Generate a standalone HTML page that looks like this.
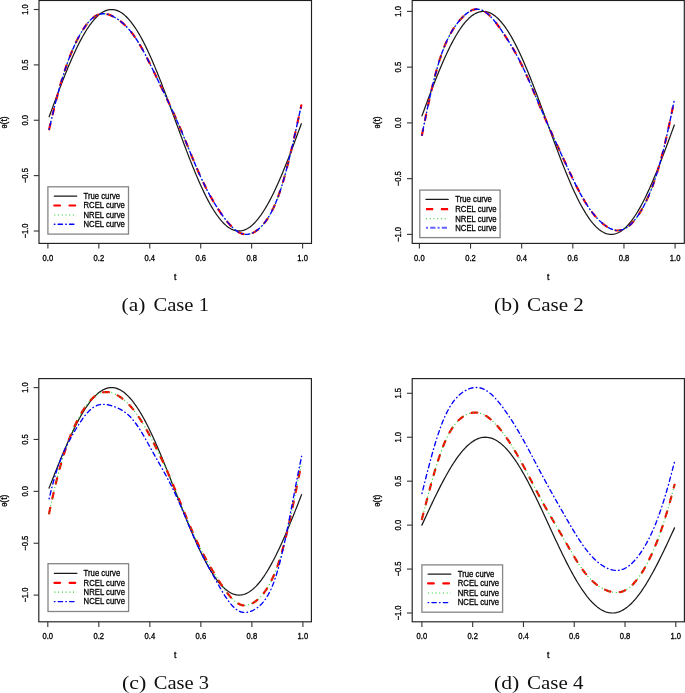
<!DOCTYPE html>
<html><head><meta charset="utf-8"><style>
html,body{margin:0;padding:0;background:#fff;}
svg{display:block;}
.tk{font-family:"Liberation Sans",Arial,sans-serif;font-size:8.6px;fill:#000;stroke:#000;stroke-width:0.32px;}
.lg{font-family:"Liberation Sans",Arial,sans-serif;font-size:8.5px;fill:#000;stroke:#000;stroke-width:0.28px;}
.cap{font-family:"Liberation Serif","Times New Roman",serif;font-size:19px;fill:#111;}
</style></head><body>
<svg width="685" height="693" viewBox="0 0 685 693">
<rect width="685" height="693" fill="#fff"/>
<clipPath id="clipA"><rect x="39.0" y="0.5" width="272.5" height="242.9"/></clipPath><g clip-path="url(#clipA)"><path d="M49.17,116.77 L50.43,113.33 L51.70,109.90 L52.96,106.47 L54.22,103.06 L55.48,99.67 L56.74,96.29 L58.00,92.94 L59.26,89.62 L60.52,86.32 L61.78,83.06 L63.04,79.84 L64.30,76.65 L65.56,73.50 L66.82,70.41 L68.08,67.35 L69.35,64.35 L70.61,61.41 L71.87,58.52 L73.13,55.69 L74.39,52.92 L75.65,50.22 L76.91,47.59 L78.17,45.02 L79.43,42.53 L80.69,40.11 L81.95,37.78 L83.21,35.52 L84.47,33.34 L85.74,31.25 L87.00,29.24 L88.26,27.32 L89.52,25.49 L90.78,23.76 L92.04,22.11 L93.30,20.56 L94.56,19.11 L95.82,17.76 L97.08,16.50 L98.34,15.35 L99.60,14.29 L100.86,13.34 L102.13,12.50 L103.39,11.75 L104.65,11.11 L105.91,10.58 L107.17,10.15 L108.43,9.83 L109.69,9.62 L110.95,9.51 L112.21,9.51 L113.47,9.62 L114.73,9.84 L115.99,10.16 L117.25,10.59 L118.52,11.12 L119.78,11.76 L121.04,12.50 L122.30,13.35 L123.56,14.30 L124.82,15.36 L126.08,16.51 L127.34,17.77 L128.60,19.13 L129.86,20.58 L131.12,22.13 L132.38,23.77 L133.64,25.51 L134.91,27.34 L136.17,29.26 L137.43,31.27 L138.69,33.36 L139.95,35.54 L141.21,37.80 L142.47,40.14 L143.73,42.56 L144.99,45.05 L146.25,47.61 L147.51,50.25 L148.77,52.95 L150.03,55.72 L151.30,58.55 L152.56,61.44 L153.82,64.38 L155.08,67.38 L156.34,70.44 L157.60,73.54 L158.86,76.68 L160.12,79.87 L161.38,83.10 L162.64,86.36 L163.90,89.65 L165.16,92.98 L166.42,96.33 L167.69,99.70 L168.95,103.10 L170.21,106.51 L171.47,109.93 L172.73,113.37 L173.99,116.81 L175.25,120.25 L176.51,123.69 L177.77,127.13 L179.03,130.57 L180.29,133.99 L181.55,137.40 L182.81,140.80 L184.08,144.17 L185.34,147.52 L186.60,150.85 L187.86,154.14 L189.12,157.40 L190.38,160.63 L191.64,163.82 L192.90,166.96 L194.16,170.06 L195.42,173.12 L196.68,176.12 L197.94,179.06 L199.20,181.95 L200.47,184.78 L201.73,187.55 L202.99,190.25 L204.25,192.89 L205.51,195.45 L206.77,197.94 L208.03,200.36 L209.29,202.70 L210.55,204.96 L211.81,207.14 L213.07,209.23 L214.33,211.24 L215.59,213.16 L216.86,214.99 L218.12,216.73 L219.38,218.37 L220.64,219.92 L221.90,221.37 L223.16,222.73 L224.42,223.99 L225.68,225.14 L226.94,226.20 L228.20,227.15 L229.46,228.00 L230.72,228.74 L231.98,229.38 L233.25,229.91 L234.51,230.34 L235.77,230.66 L237.03,230.88 L238.29,230.99 L239.55,230.99 L240.81,230.88 L242.07,230.67 L243.33,230.35 L244.59,229.92 L245.85,229.39 L247.11,228.75 L248.37,228.00 L249.64,227.16 L250.90,226.21 L252.16,225.15 L253.42,224.00 L254.68,222.74 L255.94,221.39 L257.20,219.94 L258.46,218.39 L259.72,216.74 L260.98,215.01 L262.24,213.18 L263.50,211.26 L264.76,209.25 L266.03,207.16 L267.29,204.98 L268.55,202.72 L269.81,200.39 L271.07,197.97 L272.33,195.48 L273.59,192.91 L274.85,190.28 L276.11,187.58 L277.37,184.81 L278.63,181.98 L279.89,179.09 L281.15,176.15 L282.42,173.15 L283.68,170.09 L284.94,167.00 L286.20,163.85 L287.46,160.66 L288.72,157.44 L289.98,154.18 L291.24,150.88 L292.50,147.56 L293.76,144.21 L295.02,140.83 L296.28,137.44 L297.54,134.03 L298.80,130.60 L300.07,127.17 L301.33,123.73" fill="none" stroke="#1a1a1a" stroke-width="1.25" stroke-linecap="round" stroke-linejoin="round"/><path d="M49.17,129.30 L51.72,118.25 L54.27,107.67 L56.81,97.65 L59.36,88.27 L61.91,79.54 L64.46,71.47 L67.00,64.03 L69.55,57.19 L72.10,50.91 L74.64,45.14 L77.19,39.86 L79.74,35.05 L82.28,30.70 L84.83,26.81 L87.38,23.41 L89.93,20.50 L92.47,18.12 L95.02,16.25 L97.57,14.92 L100.11,14.09 L102.66,13.74 L105.21,13.83 L107.75,14.32 L110.30,15.15 L112.85,16.30 L115.40,17.71 L117.94,19.36 L120.49,21.25 L123.04,23.38 L125.58,25.77 L128.13,28.43 L130.68,31.39 L133.22,34.68 L135.77,38.30 L138.32,42.25 L140.87,46.53 L143.41,51.09 L145.96,55.89 L148.51,60.89 L151.05,66.03 L153.60,71.26 L156.15,76.53 L158.69,81.81 L161.24,87.10 L163.79,92.38 L166.34,97.68 L168.88,103.03 L171.43,108.46 L173.98,114.00 L176.52,119.67 L179.07,125.50 L181.62,131.48 L184.16,137.58 L186.71,143.78 L189.26,150.02 L191.81,156.25 L194.35,162.38 L196.90,168.38 L199.45,174.18 L201.99,179.74 L204.54,185.04 L207.09,190.08 L209.63,194.85 L212.18,199.36 L214.73,203.65 L217.28,207.72 L219.82,211.59 L222.37,215.25 L224.92,218.71 L227.46,221.92 L230.01,224.86 L232.56,227.48 L235.10,229.74 L237.65,231.59 L240.20,233.00 L242.75,233.93 L245.29,234.38 L247.84,234.34 L250.39,233.83 L252.93,232.86 L255.48,231.45 L258.03,229.61 L260.57,227.34 L263.12,224.62 L265.67,221.41 L268.22,217.67 L270.76,213.33 L273.31,208.31 L275.86,202.55 L278.40,195.98 L280.95,188.58 L283.50,180.32 L286.04,171.23 L288.59,161.38 L291.14,150.88 L293.69,139.85 L296.23,128.46 L298.78,116.89 L301.33,105.33" fill="none" stroke="#ff0000" stroke-width="2.2" stroke-linecap="round" stroke-linejoin="round" stroke-dasharray="5.7 9.5"/><path d="M49.17,129.30 L51.72,118.25 L54.27,107.67 L56.81,97.65 L59.36,88.27 L61.91,79.54 L64.46,71.47 L67.00,64.03 L69.55,57.19 L72.10,50.91 L74.64,45.14 L77.19,39.86 L79.74,35.05 L82.28,30.70 L84.83,26.81 L87.38,23.41 L89.93,20.50 L92.47,18.12 L95.02,16.25 L97.57,14.92 L100.11,14.09 L102.66,13.74 L105.21,13.83 L107.75,14.32 L110.30,15.15 L112.85,16.30 L115.40,17.71 L117.94,19.36 L120.49,21.25 L123.04,23.38 L125.58,25.77 L128.13,28.43 L130.68,31.39 L133.22,34.68 L135.77,38.30 L138.32,42.25 L140.87,46.53 L143.41,51.09 L145.96,55.89 L148.51,60.89 L151.05,66.03 L153.60,71.26 L156.15,76.53 L158.69,81.81 L161.24,87.10 L163.79,92.38 L166.34,97.68 L168.88,103.03 L171.43,108.46 L173.98,114.00 L176.52,119.67 L179.07,125.50 L181.62,131.48 L184.16,137.58 L186.71,143.78 L189.26,150.02 L191.81,156.25 L194.35,162.38 L196.90,168.38 L199.45,174.18 L201.99,179.74 L204.54,185.04 L207.09,190.08 L209.63,194.85 L212.18,199.36 L214.73,203.65 L217.28,207.72 L219.82,211.59 L222.37,215.25 L224.92,218.71 L227.46,221.92 L230.01,224.86 L232.56,227.48 L235.10,229.74 L237.65,231.59 L240.20,233.00 L242.75,233.93 L245.29,234.38 L247.84,234.34 L250.39,233.83 L252.93,232.86 L255.48,231.45 L258.03,229.61 L260.57,227.34 L263.12,224.62 L265.67,221.41 L268.22,217.67 L270.76,213.33 L273.31,208.31 L275.86,202.55 L278.40,195.98 L280.95,188.58 L283.50,180.32 L286.04,171.23 L288.59,161.38 L291.14,150.88 L293.69,139.85 L296.23,128.46 L298.78,116.89 L301.33,105.33" fill="none" stroke="#1fd01f" stroke-width="1.1" stroke-linecap="butt" stroke-linejoin="round" stroke-dasharray="1 2.72"/><path d="M49.17,129.30 L51.72,118.25 L54.27,107.67 L56.81,97.65 L59.36,88.27 L61.91,79.54 L64.46,71.47 L67.00,64.03 L69.55,57.19 L72.10,50.91 L74.64,45.14 L77.19,39.86 L79.74,35.05 L82.28,30.70 L84.83,26.81 L87.38,23.41 L89.93,20.50 L92.47,18.12 L95.02,16.25 L97.57,14.92 L100.11,14.09 L102.66,13.74 L105.21,13.83 L107.75,14.32 L110.30,15.15 L112.85,16.30 L115.40,17.71 L117.94,19.36 L120.49,21.25 L123.04,23.38 L125.58,25.77 L128.13,28.43 L130.68,31.39 L133.22,34.68 L135.77,38.30 L138.32,42.25 L140.87,46.53 L143.41,51.09 L145.96,55.89 L148.51,60.89 L151.05,66.03 L153.60,71.26 L156.15,76.53 L158.69,81.81 L161.24,87.10 L163.79,92.38 L166.34,97.68 L168.88,103.03 L171.43,108.46 L173.98,114.00 L176.52,119.67 L179.07,125.50 L181.62,131.48 L184.16,137.58 L186.71,143.78 L189.26,150.02 L191.81,156.25 L194.35,162.38 L196.90,168.38 L199.45,174.18 L201.99,179.74 L204.54,185.04 L207.09,190.08 L209.63,194.85 L212.18,199.36 L214.73,203.65 L217.28,207.72 L219.82,211.59 L222.37,215.25 L224.92,218.71 L227.46,221.92 L230.01,224.86 L232.56,227.48 L235.10,229.74 L237.65,231.59 L240.20,233.00 L242.75,233.93 L245.29,234.38 L247.84,234.34 L250.39,233.83 L252.93,232.86 L255.48,231.45 L258.03,229.61 L260.57,227.34 L263.12,224.62 L265.67,221.41 L268.22,217.67 L270.76,213.33 L273.31,208.31 L275.86,202.55 L278.40,195.98 L280.95,188.58 L283.50,180.32 L286.04,171.23 L288.59,161.38 L291.14,150.88 L293.69,139.85 L296.23,128.46 L298.78,116.89 L301.33,105.33" fill="none" stroke="#0000ff" stroke-width="1.35" stroke-linecap="round" stroke-linejoin="round" stroke-dasharray="0.6 3.2 4.4 3.2"/></g><rect x="39.0" y="0.5" width="272.50" height="242.90" fill="none" stroke="#1e1e1e" stroke-width="1.15"/><line x1="47.90" y1="243.40" x2="47.90" y2="248.60" stroke="#333" stroke-width="1.1" /><text x="47.90" y="260.90" class="tk" text-anchor="middle" textLength="10.56" lengthAdjust="spacingAndGlyphs">0.0</text><line x1="98.84" y1="243.40" x2="98.84" y2="248.60" stroke="#333" stroke-width="1.1" /><text x="98.84" y="260.90" class="tk" text-anchor="middle" textLength="10.56" lengthAdjust="spacingAndGlyphs">0.2</text><line x1="149.78" y1="243.40" x2="149.78" y2="248.60" stroke="#333" stroke-width="1.1" /><text x="149.78" y="260.90" class="tk" text-anchor="middle" textLength="10.56" lengthAdjust="spacingAndGlyphs">0.4</text><line x1="200.72" y1="243.40" x2="200.72" y2="248.60" stroke="#333" stroke-width="1.1" /><text x="200.72" y="260.90" class="tk" text-anchor="middle" textLength="10.56" lengthAdjust="spacingAndGlyphs">0.6</text><line x1="251.66" y1="243.40" x2="251.66" y2="248.60" stroke="#333" stroke-width="1.1" /><text x="251.66" y="260.90" class="tk" text-anchor="middle" textLength="10.56" lengthAdjust="spacingAndGlyphs">0.8</text><line x1="302.60" y1="243.40" x2="302.60" y2="248.60" stroke="#333" stroke-width="1.1" /><text x="302.60" y="260.90" class="tk" text-anchor="middle" textLength="10.56" lengthAdjust="spacingAndGlyphs">1.0</text><line x1="33.80" y1="231.00" x2="39.00" y2="231.00" stroke="#333" stroke-width="1.1" /><text transform="translate(28.00,231.00) rotate(-90)" class="tk" text-anchor="middle" textLength="15.00" lengthAdjust="spacingAndGlyphs">−1.0</text><line x1="33.80" y1="175.62" x2="39.00" y2="175.62" stroke="#333" stroke-width="1.1" /><text transform="translate(28.00,175.62) rotate(-90)" class="tk" text-anchor="middle" textLength="15.00" lengthAdjust="spacingAndGlyphs">−0.5</text><line x1="33.80" y1="120.25" x2="39.00" y2="120.25" stroke="#333" stroke-width="1.1" /><text transform="translate(28.00,120.25) rotate(-90)" class="tk" text-anchor="middle" textLength="10.56" lengthAdjust="spacingAndGlyphs">0.0</text><line x1="33.80" y1="64.88" x2="39.00" y2="64.88" stroke="#333" stroke-width="1.1" /><text transform="translate(28.00,64.88) rotate(-90)" class="tk" text-anchor="middle" textLength="10.56" lengthAdjust="spacingAndGlyphs">0.5</text><line x1="33.80" y1="9.50" x2="39.00" y2="9.50" stroke="#333" stroke-width="1.1" /><text transform="translate(28.00,9.50) rotate(-90)" class="tk" text-anchor="middle" textLength="10.56" lengthAdjust="spacingAndGlyphs">1.0</text><text x="175.25" y="280.00" class="tk" text-anchor="middle">t</text><text transform="translate(7.00,122.45) rotate(-90)" class="tk" text-anchor="middle"><tspan font-size="7.6px">θ</tspan>(t)</text><rect x="47.90" y="186.80" width="80.60" height="47.30" fill="#fff" stroke="#858585" stroke-width="1.3"/><path d="M54.30,196.10 L76.70,196.10" fill="none" stroke="#1a1a1a" stroke-width="1.25" stroke-linecap="round" stroke-linejoin="round"/><text x="83.50" y="198.90" class="lg" textLength="36.62" lengthAdjust="spacingAndGlyphs">True curve</text><path d="M54.30,205.50 L76.70,205.50" fill="none" stroke="#ff0000" stroke-width="2.2" stroke-linecap="round" stroke-linejoin="round" stroke-dasharray="5.7 9.5"/><text x="83.50" y="208.30" class="lg" textLength="41.34" lengthAdjust="spacingAndGlyphs">RCEL curve</text><path d="M54.30,215.00 L76.70,215.00" fill="none" stroke="#1fd01f" stroke-width="1.1" stroke-linecap="butt" stroke-linejoin="round" stroke-dasharray="1 2.72"/><text x="83.50" y="217.80" class="lg" textLength="41.34" lengthAdjust="spacingAndGlyphs">NREL curve</text><path d="M54.30,224.20 L76.70,224.20" fill="none" stroke="#0000ff" stroke-width="1.35" stroke-linecap="round" stroke-linejoin="round" stroke-dasharray="0.6 3.2 4.4 3.2"/><text x="83.50" y="227.00" class="lg" textLength="41.34" lengthAdjust="spacingAndGlyphs">NCEL curve</text>
<clipPath id="clipB"><rect x="412.2" y="0.5" width="272.09999999999997" height="242.9"/></clipPath><g clip-path="url(#clipB)"><path d="M421.96,115.90 L423.22,112.45 L424.48,109.02 L425.74,105.59 L427.00,102.19 L428.27,98.80 L429.53,95.44 L430.79,92.10 L432.05,88.79 L433.31,85.52 L434.58,82.28 L435.84,79.08 L437.10,75.92 L438.36,72.81 L439.62,69.74 L440.89,66.73 L442.15,63.77 L443.41,60.87 L444.67,58.03 L445.93,55.25 L447.19,52.53 L448.46,49.88 L449.72,47.31 L450.98,44.80 L452.24,42.37 L453.50,40.02 L454.77,37.75 L456.03,35.56 L457.29,33.45 L458.55,31.43 L459.81,29.50 L461.08,27.65 L462.34,25.90 L463.60,24.24 L464.86,22.68 L466.12,21.21 L467.38,19.84 L468.65,18.57 L469.91,17.40 L471.17,16.34 L472.43,15.37 L473.69,14.51 L474.96,13.75 L476.22,13.10 L477.48,12.55 L478.74,12.11 L480.00,11.77 L481.27,11.54 L482.53,11.42 L483.79,11.41 L485.05,11.50 L486.31,11.70 L487.57,12.01 L488.84,12.42 L490.10,12.94 L491.36,13.57 L492.62,14.30 L493.88,15.13 L495.15,16.07 L496.41,17.11 L497.67,18.26 L498.93,19.50 L500.19,20.84 L501.46,22.28 L502.72,23.82 L503.98,25.45 L505.24,27.18 L506.50,29.00 L507.76,30.91 L509.03,32.91 L510.29,34.99 L511.55,37.16 L512.81,39.41 L514.07,41.74 L515.34,44.15 L516.60,46.64 L517.86,49.20 L519.12,51.82 L520.38,54.52 L521.65,57.29 L522.91,60.11 L524.17,63.00 L525.43,65.94 L526.69,68.94 L527.95,71.99 L529.22,75.09 L530.48,78.24 L531.74,81.43 L533.00,84.66 L534.26,87.92 L535.53,91.22 L536.79,94.55 L538.05,97.91 L539.31,101.29 L540.57,104.69 L541.84,108.11 L543.10,111.54 L544.36,114.99 L545.62,118.44 L546.88,121.89 L548.14,125.35 L549.41,128.81 L550.67,132.26 L551.93,135.70 L553.19,139.12 L554.45,142.54 L555.72,145.93 L556.98,149.30 L558.24,152.65 L559.50,155.96 L560.76,159.25 L562.03,162.50 L563.29,165.71 L564.55,168.88 L565.81,172.01 L567.07,175.09 L568.34,178.12 L569.60,181.10 L570.86,184.02 L572.12,186.88 L573.38,189.68 L574.64,192.41 L575.91,195.08 L577.17,197.68 L578.43,200.21 L579.69,202.67 L580.95,205.04 L582.22,207.34 L583.48,209.56 L584.74,211.69 L586.00,213.74 L587.26,215.70 L588.53,217.57 L589.79,219.35 L591.05,221.04 L592.31,222.63 L593.57,224.13 L594.83,225.53 L596.10,226.83 L597.36,228.04 L598.62,229.14 L599.88,230.13 L601.14,231.03 L602.41,231.82 L603.67,232.51 L604.93,233.09 L606.19,233.57 L607.45,233.93 L608.72,234.20 L609.98,234.35 L611.24,234.40 L612.50,234.34 L613.76,234.17 L615.02,233.90 L616.29,233.52 L617.55,233.04 L618.81,232.44 L620.07,231.75 L621.33,230.94 L622.60,230.04 L623.86,229.03 L625.12,227.92 L626.38,226.71 L627.64,225.39 L628.91,223.98 L630.17,222.48 L631.43,220.87 L632.69,219.18 L633.95,217.39 L635.21,215.51 L636.48,213.54 L637.74,211.48 L639.00,209.34 L640.26,207.11 L641.52,204.81 L642.79,202.42 L644.05,199.96 L645.31,197.42 L646.57,194.82 L647.83,192.14 L649.10,189.40 L650.36,186.59 L651.62,183.72 L652.88,180.80 L654.14,177.81 L655.40,174.78 L656.67,171.70 L657.93,168.56 L659.19,165.39 L660.45,162.17 L661.71,158.92 L662.98,155.63 L664.24,152.31 L665.50,148.96 L666.76,145.59 L668.02,142.19 L669.29,138.78 L670.55,135.35 L671.81,131.91 L673.07,128.46 L674.33,125.00" fill="none" stroke="#1a1a1a" stroke-width="1.25" stroke-linecap="round" stroke-linejoin="round"/><path d="M421.96,135.00 L424.51,122.40 L427.06,110.11 L429.60,98.33 L432.15,87.25 L434.70,77.00 L437.25,67.66 L439.80,59.28 L442.35,51.84 L444.90,45.29 L447.45,39.56 L450.00,34.55 L452.55,30.15 L455.10,26.25 L457.65,22.80 L460.20,19.71 L462.75,16.98 L465.29,14.60 L467.84,12.59 L470.39,10.99 L472.94,9.85 L475.49,9.22 L478.04,9.13 L480.59,9.60 L483.14,10.64 L485.69,12.20 L488.24,14.26 L490.79,16.74 L493.34,19.59 L495.89,22.74 L498.43,26.12 L500.98,29.69 L503.53,33.41 L506.08,37.27 L508.63,41.28 L511.18,45.45 L513.73,49.80 L516.28,54.37 L518.83,59.17 L521.38,64.22 L523.93,69.52 L526.48,75.05 L529.03,80.78 L531.57,86.66 L534.12,92.65 L536.67,98.69 L539.22,104.72 L541.77,110.71 L544.32,116.62 L546.87,122.45 L549.42,128.18 L551.97,133.84 L554.52,139.43 L557.07,144.98 L559.62,150.52 L562.17,156.04 L564.72,161.55 L567.26,167.05 L569.81,172.49 L572.36,177.86 L574.91,183.11 L577.46,188.19 L580.01,193.05 L582.56,197.65 L585.11,201.98 L587.66,206.00 L590.21,209.71 L592.76,213.11 L595.31,216.21 L597.86,219.02 L600.40,221.54 L602.95,223.79 L605.50,225.75 L608.05,227.41 L610.60,228.75 L613.15,229.73 L615.70,230.32 L618.25,230.48 L620.80,230.18 L623.35,229.41 L625.90,228.14 L628.45,226.39 L631.00,224.15 L633.54,221.44 L636.09,218.27 L638.64,214.66 L641.19,210.59 L643.74,206.06 L646.29,201.02 L648.84,195.43 L651.39,189.22 L653.94,182.34 L656.49,174.71 L659.04,166.28 L661.59,157.02 L664.14,146.95 L666.69,136.09 L669.23,124.55 L671.78,112.44 L674.33,99.95" fill="none" stroke="#ff0000" stroke-width="2.2" stroke-linecap="round" stroke-linejoin="round" stroke-dasharray="5.7 9.5"/><path d="M421.96,135.00 L424.51,122.40 L427.06,110.11 L429.60,98.33 L432.15,87.25 L434.70,77.00 L437.25,67.66 L439.80,59.28 L442.35,51.84 L444.90,45.29 L447.45,39.56 L450.00,34.55 L452.55,30.15 L455.10,26.25 L457.65,22.80 L460.20,19.71 L462.75,16.98 L465.29,14.60 L467.84,12.59 L470.39,10.99 L472.94,9.85 L475.49,9.22 L478.04,9.13 L480.59,9.60 L483.14,10.64 L485.69,12.20 L488.24,14.26 L490.79,16.74 L493.34,19.59 L495.89,22.74 L498.43,26.12 L500.98,29.69 L503.53,33.41 L506.08,37.27 L508.63,41.28 L511.18,45.45 L513.73,49.80 L516.28,54.37 L518.83,59.17 L521.38,64.22 L523.93,69.52 L526.48,75.05 L529.03,80.78 L531.57,86.66 L534.12,92.65 L536.67,98.69 L539.22,104.72 L541.77,110.71 L544.32,116.62 L546.87,122.45 L549.42,128.18 L551.97,133.84 L554.52,139.43 L557.07,144.98 L559.62,150.52 L562.17,156.04 L564.72,161.55 L567.26,167.05 L569.81,172.49 L572.36,177.86 L574.91,183.11 L577.46,188.19 L580.01,193.05 L582.56,197.65 L585.11,201.98 L587.66,206.00 L590.21,209.71 L592.76,213.11 L595.31,216.21 L597.86,219.02 L600.40,221.54 L602.95,223.79 L605.50,225.75 L608.05,227.41 L610.60,228.75 L613.15,229.73 L615.70,230.32 L618.25,230.48 L620.80,230.18 L623.35,229.41 L625.90,228.14 L628.45,226.39 L631.00,224.15 L633.54,221.44 L636.09,218.27 L638.64,214.66 L641.19,210.59 L643.74,206.06 L646.29,201.02 L648.84,195.43 L651.39,189.22 L653.94,182.34 L656.49,174.71 L659.04,166.28 L661.59,157.02 L664.14,146.95 L666.69,136.09 L669.23,124.55 L671.78,112.44 L674.33,99.95" fill="none" stroke="#1fd01f" stroke-width="1.1" stroke-linecap="butt" stroke-linejoin="round" stroke-dasharray="1 2.72"/><path d="M421.96,135.00 L424.51,122.40 L427.06,110.11 L429.60,98.33 L432.15,87.25 L434.70,77.00 L437.25,67.66 L439.80,59.28 L442.35,51.84 L444.90,45.29 L447.45,39.56 L450.00,34.55 L452.55,30.15 L455.10,26.25 L457.65,22.80 L460.20,19.71 L462.75,16.98 L465.29,14.60 L467.84,12.59 L470.39,10.99 L472.94,9.85 L475.49,9.22 L478.04,9.13 L480.59,9.60 L483.14,10.64 L485.69,12.20 L488.24,14.26 L490.79,16.74 L493.34,19.59 L495.89,22.74 L498.43,26.12 L500.98,29.69 L503.53,33.41 L506.08,37.27 L508.63,41.28 L511.18,45.45 L513.73,49.80 L516.28,54.37 L518.83,59.17 L521.38,64.22 L523.93,69.52 L526.48,75.05 L529.03,80.78 L531.57,86.66 L534.12,92.65 L536.67,98.69 L539.22,104.72 L541.77,110.71 L544.32,116.62 L546.87,122.45 L549.42,128.18 L551.97,133.84 L554.52,139.43 L557.07,144.98 L559.62,150.52 L562.17,156.04 L564.72,161.55 L567.26,167.05 L569.81,172.49 L572.36,177.86 L574.91,183.11 L577.46,188.19 L580.01,193.05 L582.56,197.65 L585.11,201.98 L587.66,206.00 L590.21,209.71 L592.76,213.11 L595.31,216.21 L597.86,219.02 L600.40,221.54 L602.95,223.79 L605.50,225.75 L608.05,227.41 L610.60,228.75 L613.15,229.73 L615.70,230.32 L618.25,230.48 L620.80,230.18 L623.35,229.41 L625.90,228.14 L628.45,226.39 L631.00,224.15 L633.54,221.44 L636.09,218.27 L638.64,214.66 L641.19,210.59 L643.74,206.06 L646.29,201.02 L648.84,195.43 L651.39,189.22 L653.94,182.34 L656.49,174.71 L659.04,166.28 L661.59,157.02 L664.14,146.95 L666.69,136.09 L669.23,124.55 L671.78,112.44 L674.33,99.95" fill="none" stroke="#0000ff" stroke-width="1.35" stroke-linecap="round" stroke-linejoin="round" stroke-dasharray="0.6 3.2 4.4 3.2"/></g><rect x="412.2" y="0.5" width="272.10" height="242.90" fill="none" stroke="#1e1e1e" stroke-width="1.15"/><line x1="419.40" y1="243.40" x2="419.40" y2="248.60" stroke="#333" stroke-width="1.1" /><text x="419.40" y="260.90" class="tk" text-anchor="middle" textLength="10.56" lengthAdjust="spacingAndGlyphs">0.0</text><line x1="470.54" y1="243.40" x2="470.54" y2="248.60" stroke="#333" stroke-width="1.1" /><text x="470.54" y="260.90" class="tk" text-anchor="middle" textLength="10.56" lengthAdjust="spacingAndGlyphs">0.2</text><line x1="521.68" y1="243.40" x2="521.68" y2="248.60" stroke="#333" stroke-width="1.1" /><text x="521.68" y="260.90" class="tk" text-anchor="middle" textLength="10.56" lengthAdjust="spacingAndGlyphs">0.4</text><line x1="572.82" y1="243.40" x2="572.82" y2="248.60" stroke="#333" stroke-width="1.1" /><text x="572.82" y="260.90" class="tk" text-anchor="middle" textLength="10.56" lengthAdjust="spacingAndGlyphs">0.6</text><line x1="623.96" y1="243.40" x2="623.96" y2="248.60" stroke="#333" stroke-width="1.1" /><text x="623.96" y="260.90" class="tk" text-anchor="middle" textLength="10.56" lengthAdjust="spacingAndGlyphs">0.8</text><line x1="675.10" y1="243.40" x2="675.10" y2="248.60" stroke="#333" stroke-width="1.1" /><text x="675.10" y="260.90" class="tk" text-anchor="middle" textLength="10.56" lengthAdjust="spacingAndGlyphs">1.0</text><line x1="407.00" y1="234.40" x2="412.20" y2="234.40" stroke="#333" stroke-width="1.1" /><text transform="translate(401.20,234.40) rotate(-90)" class="tk" text-anchor="middle" textLength="15.00" lengthAdjust="spacingAndGlyphs">−1.0</text><line x1="407.00" y1="178.65" x2="412.20" y2="178.65" stroke="#333" stroke-width="1.1" /><text transform="translate(401.20,178.65) rotate(-90)" class="tk" text-anchor="middle" textLength="15.00" lengthAdjust="spacingAndGlyphs">−0.5</text><line x1="407.00" y1="122.90" x2="412.20" y2="122.90" stroke="#333" stroke-width="1.1" /><text transform="translate(401.20,122.90) rotate(-90)" class="tk" text-anchor="middle" textLength="10.56" lengthAdjust="spacingAndGlyphs">0.0</text><line x1="407.00" y1="67.15" x2="412.20" y2="67.15" stroke="#333" stroke-width="1.1" /><text transform="translate(401.20,67.15) rotate(-90)" class="tk" text-anchor="middle" textLength="10.56" lengthAdjust="spacingAndGlyphs">0.5</text><line x1="407.00" y1="11.40" x2="412.20" y2="11.40" stroke="#333" stroke-width="1.1" /><text transform="translate(401.20,11.40) rotate(-90)" class="tk" text-anchor="middle" textLength="10.56" lengthAdjust="spacingAndGlyphs">1.0</text><text x="548.25" y="280.00" class="tk" text-anchor="middle">t</text><text transform="translate(380.20,122.45) rotate(-90)" class="tk" text-anchor="middle"><tspan font-size="7.6px">θ</tspan>(t)</text><rect x="419.80" y="190.10" width="80.30" height="47.50" fill="#fff" stroke="#858585" stroke-width="1.3"/><path d="M426.00,199.40 L448.20,199.40" fill="none" stroke="#1a1a1a" stroke-width="1.25" stroke-linecap="round" stroke-linejoin="round"/><text x="455.30" y="202.20" class="lg" textLength="36.62" lengthAdjust="spacingAndGlyphs">True curve</text><path d="M426.00,209.20 L448.20,209.20" fill="none" stroke="#ff0000" stroke-width="2.3" stroke-linecap="butt" stroke-linejoin="round" stroke-dasharray="7.2 7.7"/><text x="455.30" y="212.00" class="lg" textLength="41.34" lengthAdjust="spacingAndGlyphs">RCEL curve</text><path d="M426.00,218.70 L448.20,218.70" fill="none" stroke="#10c010" stroke-width="1.1" stroke-linecap="butt" stroke-linejoin="round" stroke-dasharray="1 2.72"/><text x="455.30" y="221.50" class="lg" textLength="41.34" lengthAdjust="spacingAndGlyphs">NREL curve</text><path d="M426.00,227.70 L448.20,227.70" fill="none" stroke="#6161ff" stroke-width="1.9" stroke-linecap="butt" stroke-linejoin="round" stroke-dasharray="2 2.2 5.2 2.2"/><text x="455.30" y="230.50" class="lg" textLength="41.34" lengthAdjust="spacingAndGlyphs">NCEL curve</text>
<clipPath id="clipC"><rect x="38.8" y="378.6" width="272.59999999999997" height="243.19999999999993"/></clipPath><g clip-path="url(#clipC)"><path d="M49.08,488.09 L50.34,484.87 L51.60,481.65 L52.86,478.44 L54.13,475.25 L55.39,472.07 L56.65,468.91 L57.91,465.77 L59.18,462.66 L60.44,459.57 L61.70,456.51 L62.97,453.49 L64.23,450.51 L65.49,447.56 L66.75,444.66 L68.02,441.80 L69.28,438.99 L70.54,436.23 L71.80,433.52 L73.07,430.87 L74.33,428.28 L75.59,425.75 L76.86,423.28 L78.12,420.88 L79.38,418.54 L80.64,416.28 L81.91,414.09 L83.17,411.97 L84.43,409.93 L85.70,407.97 L86.96,406.09 L88.22,404.30 L89.48,402.58 L90.75,400.96 L92.01,399.42 L93.27,397.97 L94.53,396.61 L95.80,395.34 L97.06,394.16 L98.32,393.08 L99.59,392.09 L100.85,391.20 L102.11,390.41 L103.37,389.71 L104.64,389.11 L105.90,388.61 L107.16,388.21 L108.42,387.91 L109.69,387.71 L110.95,387.61 L112.21,387.61 L113.48,387.71 L114.74,387.91 L116.00,388.22 L117.26,388.62 L118.53,389.12 L119.79,389.72 L121.05,390.41 L122.31,391.21 L123.58,392.10 L124.84,393.09 L126.10,394.17 L127.37,395.35 L128.63,396.62 L129.89,397.98 L131.15,399.43 L132.42,400.97 L133.68,402.60 L134.94,404.31 L136.20,406.11 L137.47,407.99 L138.73,409.95 L139.99,411.99 L141.26,414.11 L142.52,416.30 L143.78,418.57 L145.04,420.90 L146.31,423.30 L147.57,425.77 L148.83,428.30 L150.10,430.90 L151.36,433.55 L152.62,436.25 L153.88,439.01 L155.15,441.83 L156.41,444.68 L157.67,447.59 L158.93,450.54 L160.20,453.52 L161.46,456.54 L162.72,459.60 L163.99,462.69 L165.25,465.80 L166.51,468.94 L167.77,472.10 L169.04,475.28 L170.30,478.48 L171.56,481.68 L172.82,484.90 L174.09,488.12 L175.35,491.35 L176.61,494.58 L177.88,497.80 L179.14,501.02 L180.40,504.22 L181.66,507.42 L182.93,510.60 L184.19,513.76 L185.45,516.90 L186.71,520.01 L187.98,523.10 L189.24,526.16 L190.50,529.18 L191.77,532.16 L193.03,535.11 L194.29,538.02 L195.55,540.87 L196.82,543.69 L198.08,546.45 L199.34,549.15 L200.60,551.80 L201.87,554.40 L203.13,556.93 L204.39,559.40 L205.66,561.80 L206.92,564.13 L208.18,566.40 L209.44,568.59 L210.71,570.71 L211.97,572.75 L213.23,574.71 L214.50,576.59 L215.76,578.39 L217.02,580.10 L218.28,581.73 L219.55,583.27 L220.81,584.72 L222.07,586.08 L223.33,587.35 L224.60,588.53 L225.86,589.61 L227.12,590.60 L228.39,591.49 L229.65,592.29 L230.91,592.98 L232.17,593.58 L233.44,594.08 L234.70,594.48 L235.96,594.79 L237.22,594.99 L238.49,595.09 L239.75,595.09 L241.01,594.99 L242.28,594.79 L243.54,594.49 L244.80,594.09 L246.06,593.59 L247.33,592.99 L248.59,592.29 L249.85,591.50 L251.11,590.61 L252.38,589.62 L253.64,588.54 L254.90,587.36 L256.17,586.09 L257.43,584.73 L258.69,583.28 L259.95,581.74 L261.22,580.12 L262.48,578.40 L263.74,576.61 L265.00,574.73 L266.27,572.77 L267.53,570.73 L268.79,568.61 L270.06,566.42 L271.32,564.16 L272.58,561.82 L273.84,559.42 L275.11,556.95 L276.37,554.42 L277.63,551.83 L278.90,549.18 L280.16,546.47 L281.42,543.71 L282.68,540.90 L283.95,538.04 L285.21,535.14 L286.47,532.19 L287.73,529.21 L289.00,526.19 L290.26,523.13 L291.52,520.04 L292.79,516.93 L294.05,513.79 L295.31,510.63 L296.57,507.45 L297.84,504.26 L299.10,501.05 L300.36,497.83 L301.62,494.61" fill="none" stroke="#1a1a1a" stroke-width="1.25" stroke-linecap="round" stroke-linejoin="round"/><path d="M49.08,513.40 L51.63,501.58 L54.18,490.34 L56.73,479.80 L59.28,470.00 L61.83,460.96 L64.38,452.68 L66.93,445.12 L69.48,438.20 L72.03,431.89 L74.59,426.11 L77.14,420.81 L79.69,415.97 L82.24,411.56 L84.79,407.58 L87.34,404.03 L89.89,400.92 L92.44,398.26 L94.99,396.08 L97.54,394.37 L100.10,393.14 L102.65,392.35 L105.20,391.99 L107.75,392.04 L110.30,392.45 L112.85,393.20 L115.40,394.25 L117.95,395.60 L120.50,397.22 L123.05,399.11 L125.61,401.28 L128.16,403.73 L130.71,406.47 L133.26,409.51 L135.81,412.83 L138.36,416.45 L140.91,420.33 L143.46,424.47 L146.01,428.84 L148.56,433.40 L151.12,438.14 L153.67,443.03 L156.22,448.06 L158.77,453.23 L161.32,458.52 L163.87,463.96 L166.42,469.54 L168.97,475.27 L171.52,481.16 L174.07,487.20 L176.63,493.36 L179.18,499.61 L181.73,505.91 L184.28,512.21 L186.83,518.45 L189.38,524.57 L191.93,530.52 L194.48,536.26 L197.03,541.76 L199.58,547.01 L202.14,552.03 L204.69,556.82 L207.24,561.42 L209.79,565.87 L212.34,570.19 L214.89,574.41 L217.44,578.53 L219.99,582.54 L222.54,586.41 L225.09,590.10 L227.65,593.53 L230.20,596.65 L232.75,599.38 L235.30,601.65 L237.85,603.42 L240.40,604.65 L242.95,605.34 L245.50,605.48 L248.05,605.11 L250.60,604.25 L253.16,602.95 L255.71,601.24 L258.26,599.12 L260.81,596.60 L263.36,593.64 L265.91,590.19 L268.46,586.17 L271.01,581.49 L273.56,576.05 L276.11,569.77 L278.67,562.56 L281.22,554.39 L283.77,545.25 L286.32,535.18 L288.87,524.27 L291.42,512.65 L293.97,500.49 L296.52,487.99 L299.07,475.35 L301.62,462.80" fill="none" stroke="#ff0000" stroke-width="2.2" stroke-linecap="round" stroke-linejoin="round" stroke-dasharray="5.7 9.5"/><path d="M49.08,513.40 L51.63,501.58 L54.18,490.34 L56.73,479.80 L59.28,470.00 L61.83,460.96 L64.38,452.68 L66.93,445.12 L69.48,438.20 L72.03,431.89 L74.59,426.11 L77.14,420.81 L79.69,415.97 L82.24,411.56 L84.79,407.58 L87.34,404.03 L89.89,400.92 L92.44,398.26 L94.99,396.08 L97.54,394.37 L100.10,393.14 L102.65,392.35 L105.20,391.99 L107.75,392.04 L110.30,392.45 L112.85,393.20 L115.40,394.25 L117.95,395.60 L120.50,397.22 L123.05,399.11 L125.61,401.28 L128.16,403.73 L130.71,406.47 L133.26,409.51 L135.81,412.83 L138.36,416.45 L140.91,420.33 L143.46,424.47 L146.01,428.84 L148.56,433.40 L151.12,438.14 L153.67,443.03 L156.22,448.06 L158.77,453.23 L161.32,458.52 L163.87,463.96 L166.42,469.54 L168.97,475.27 L171.52,481.16 L174.07,487.20 L176.63,493.36 L179.18,499.61 L181.73,505.91 L184.28,512.21 L186.83,518.45 L189.38,524.57 L191.93,530.52 L194.48,536.26 L197.03,541.76 L199.58,547.01 L202.14,552.03 L204.69,556.82 L207.24,561.42 L209.79,565.87 L212.34,570.19 L214.89,574.41 L217.44,578.53 L219.99,582.54 L222.54,586.41 L225.09,590.10 L227.65,593.53 L230.20,596.65 L232.75,599.38 L235.30,601.65 L237.85,603.42 L240.40,604.65 L242.95,605.34 L245.50,605.48 L248.05,605.11 L250.60,604.25 L253.16,602.95 L255.71,601.24 L258.26,599.12 L260.81,596.60 L263.36,593.64 L265.91,590.19 L268.46,586.17 L271.01,581.49 L273.56,576.05 L276.11,569.77 L278.67,562.56 L281.22,554.39 L283.77,545.25 L286.32,535.18 L288.87,524.27 L291.42,512.65 L293.97,500.49 L296.52,487.99 L299.07,475.35 L301.62,462.80" fill="none" stroke="#1fd01f" stroke-width="1.1" stroke-linecap="butt" stroke-linejoin="round" stroke-dasharray="1 2.72"/><path d="M49.08,498.73 L51.63,488.31 L54.18,478.92 L56.73,470.56 L59.28,463.14 L61.83,456.55 L64.38,450.64 L66.93,445.28 L69.48,440.33 L72.03,435.68 L74.59,431.26 L77.14,427.04 L79.69,423.03 L82.24,419.27 L84.79,415.82 L87.34,412.75 L89.89,410.12 L92.44,407.97 L94.99,406.33 L97.54,405.20 L100.10,404.53 L102.65,404.28 L105.20,404.37 L107.75,404.75 L110.30,405.34 L112.85,406.11 L115.40,407.04 L117.95,408.12 L120.50,409.39 L123.05,410.89 L125.61,412.67 L128.16,414.79 L130.71,417.29 L133.26,420.19 L135.81,423.50 L138.36,427.18 L140.91,431.19 L143.46,435.46 L146.01,439.92 L148.56,444.47 L151.12,449.07 L153.67,453.64 L156.22,458.18 L158.77,462.68 L161.32,467.18 L163.87,471.71 L166.42,476.33 L168.97,481.11 L171.52,486.11 L174.07,491.34 L176.63,496.84 L179.18,502.57 L181.73,508.51 L184.28,514.57 L186.83,520.69 L189.38,526.79 L191.93,532.78 L194.48,538.59 L197.03,544.20 L199.58,549.59 L202.14,554.75 L204.69,559.72 L207.24,564.55 L209.79,569.27 L212.34,573.92 L214.89,578.53 L217.44,583.08 L219.99,587.56 L222.54,591.90 L225.09,596.03 L227.65,599.86 L230.20,603.30 L232.75,606.25 L235.30,608.66 L237.85,610.49 L240.40,611.73 L242.95,612.39 L245.50,612.52 L248.05,612.18 L250.60,611.42 L253.16,610.29 L255.71,608.82 L258.26,606.98 L260.81,604.73 L263.36,601.96 L265.91,598.56 L268.46,594.37 L271.01,589.23 L273.56,583.02 L276.11,575.63 L278.67,567.00 L281.22,557.15 L283.77,546.15 L286.32,534.17 L288.87,521.43 L291.42,508.20 L293.97,494.77 L296.52,481.46 L299.07,468.55 L301.62,456.30" fill="none" stroke="#0000ff" stroke-width="1.35" stroke-linecap="round" stroke-linejoin="round" stroke-dasharray="0.6 3.2 4.4 3.2"/></g><rect x="38.8" y="378.6" width="272.60" height="243.20" fill="none" stroke="#1e1e1e" stroke-width="1.15"/><line x1="47.80" y1="621.80" x2="47.80" y2="627.00" stroke="#333" stroke-width="1.1" /><text x="47.80" y="639.30" class="tk" text-anchor="middle" textLength="10.56" lengthAdjust="spacingAndGlyphs">0.0</text><line x1="98.82" y1="621.80" x2="98.82" y2="627.00" stroke="#333" stroke-width="1.1" /><text x="98.82" y="639.30" class="tk" text-anchor="middle" textLength="10.56" lengthAdjust="spacingAndGlyphs">0.2</text><line x1="149.84" y1="621.80" x2="149.84" y2="627.00" stroke="#333" stroke-width="1.1" /><text x="149.84" y="639.30" class="tk" text-anchor="middle" textLength="10.56" lengthAdjust="spacingAndGlyphs">0.4</text><line x1="200.86" y1="621.80" x2="200.86" y2="627.00" stroke="#333" stroke-width="1.1" /><text x="200.86" y="639.30" class="tk" text-anchor="middle" textLength="10.56" lengthAdjust="spacingAndGlyphs">0.6</text><line x1="251.88" y1="621.80" x2="251.88" y2="627.00" stroke="#333" stroke-width="1.1" /><text x="251.88" y="639.30" class="tk" text-anchor="middle" textLength="10.56" lengthAdjust="spacingAndGlyphs">0.8</text><line x1="302.90" y1="621.80" x2="302.90" y2="627.00" stroke="#333" stroke-width="1.1" /><text x="302.90" y="639.30" class="tk" text-anchor="middle" textLength="10.56" lengthAdjust="spacingAndGlyphs">1.0</text><line x1="33.60" y1="595.10" x2="38.80" y2="595.10" stroke="#333" stroke-width="1.1" /><text transform="translate(27.80,595.10) rotate(-90)" class="tk" text-anchor="middle" textLength="15.00" lengthAdjust="spacingAndGlyphs">−1.0</text><line x1="33.60" y1="543.23" x2="38.80" y2="543.23" stroke="#333" stroke-width="1.1" /><text transform="translate(27.80,543.23) rotate(-90)" class="tk" text-anchor="middle" textLength="15.00" lengthAdjust="spacingAndGlyphs">−0.5</text><line x1="33.60" y1="491.35" x2="38.80" y2="491.35" stroke="#333" stroke-width="1.1" /><text transform="translate(27.80,491.35) rotate(-90)" class="tk" text-anchor="middle" textLength="10.56" lengthAdjust="spacingAndGlyphs">0.0</text><line x1="33.60" y1="439.48" x2="38.80" y2="439.48" stroke="#333" stroke-width="1.1" /><text transform="translate(27.80,439.48) rotate(-90)" class="tk" text-anchor="middle" textLength="10.56" lengthAdjust="spacingAndGlyphs">0.5</text><line x1="33.60" y1="387.60" x2="38.80" y2="387.60" stroke="#333" stroke-width="1.1" /><text transform="translate(27.80,387.60) rotate(-90)" class="tk" text-anchor="middle" textLength="10.56" lengthAdjust="spacingAndGlyphs">1.0</text><text x="175.10" y="658.40" class="tk" text-anchor="middle">t</text><text transform="translate(6.80,500.70) rotate(-90)" class="tk" text-anchor="middle"><tspan font-size="7.6px">θ</tspan>(t)</text><rect x="48.00" y="563.70" width="80.60" height="47.80" fill="#fff" stroke="#858585" stroke-width="1.3"/><path d="M54.40,573.40 L76.80,573.40" fill="none" stroke="#1a1a1a" stroke-width="1.25" stroke-linecap="round" stroke-linejoin="round"/><text x="83.60" y="576.20" class="lg" textLength="36.62" lengthAdjust="spacingAndGlyphs">True curve</text><path d="M54.40,582.80 L76.80,582.80" fill="none" stroke="#ff0000" stroke-width="2.2" stroke-linecap="round" stroke-linejoin="round" stroke-dasharray="5.7 9.5"/><text x="83.60" y="585.60" class="lg" textLength="41.34" lengthAdjust="spacingAndGlyphs">RCEL curve</text><path d="M54.40,592.10 L76.80,592.10" fill="none" stroke="#1fd01f" stroke-width="1.1" stroke-linecap="butt" stroke-linejoin="round" stroke-dasharray="1 2.72"/><text x="83.60" y="594.90" class="lg" textLength="41.34" lengthAdjust="spacingAndGlyphs">NREL curve</text><path d="M54.40,601.60 L76.80,601.60" fill="none" stroke="#0000ff" stroke-width="1.35" stroke-linecap="round" stroke-linejoin="round" stroke-dasharray="0.6 3.2 4.4 3.2"/><text x="83.60" y="604.40" class="lg" textLength="41.34" lengthAdjust="spacingAndGlyphs">NCEL curve</text>
<clipPath id="clipD"><rect x="412.2" y="378.6" width="272.2" height="243.19999999999993"/></clipPath><g clip-path="url(#clipD)"><path d="M421.90,525.12 L423.16,522.37 L424.43,519.63 L425.69,516.89 L426.95,514.16 L428.22,511.44 L429.48,508.73 L430.74,506.04 L432.01,503.37 L433.27,500.72 L434.53,498.09 L435.79,495.49 L437.06,492.92 L438.32,490.38 L439.58,487.88 L440.85,485.41 L442.11,482.98 L443.37,480.59 L444.64,478.24 L445.90,475.94 L447.16,473.69 L448.43,471.49 L449.69,469.34 L450.95,467.24 L452.22,465.20 L453.48,463.22 L454.74,461.30 L456.01,459.45 L457.27,457.65 L458.53,455.93 L459.79,454.27 L461.06,452.68 L462.32,451.16 L463.58,449.71 L464.85,448.34 L466.11,447.04 L467.37,445.82 L468.64,444.67 L469.90,443.61 L471.16,442.62 L472.43,441.71 L473.69,440.89 L474.95,440.15 L476.22,439.49 L477.48,438.91 L478.74,438.42 L480.01,438.01 L481.27,437.69 L482.53,437.46 L483.79,437.31 L485.06,437.24 L486.32,437.26 L487.58,437.37 L488.85,437.56 L490.11,437.84 L491.37,438.21 L492.64,438.66 L493.90,439.19 L495.16,439.81 L496.43,440.51 L497.69,441.29 L498.95,442.15 L500.22,443.10 L501.48,444.13 L502.74,445.23 L504.00,446.42 L505.27,447.68 L506.53,449.01 L507.79,450.42 L509.06,451.91 L510.32,453.46 L511.58,455.08 L512.85,456.78 L514.11,458.54 L515.37,460.36 L516.64,462.25 L517.90,464.20 L519.16,466.21 L520.43,468.28 L521.69,470.40 L522.95,472.58 L524.22,474.80 L525.48,477.08 L526.74,479.40 L528.00,481.77 L529.27,484.18 L530.53,486.63 L531.79,489.12 L533.06,491.64 L534.32,494.20 L535.58,496.78 L536.85,499.40 L538.11,502.04 L539.37,504.70 L540.64,507.38 L541.90,510.08 L543.16,512.79 L544.43,515.52 L545.69,518.25 L546.95,520.99 L548.22,523.74 L549.48,526.49 L550.74,529.23 L552.00,531.97 L553.27,534.71 L554.53,537.43 L555.79,540.15 L557.06,542.85 L558.32,545.53 L559.58,548.19 L560.85,550.83 L562.11,553.44 L563.37,556.03 L564.64,558.58 L565.90,561.11 L567.16,563.60 L568.43,566.05 L569.69,568.46 L570.95,570.83 L572.22,573.15 L573.48,575.43 L574.74,577.65 L576.00,579.83 L577.27,581.95 L578.53,584.02 L579.79,586.03 L581.06,587.98 L582.32,589.87 L583.58,591.69 L584.85,593.45 L586.11,595.15 L587.37,596.77 L588.64,598.33 L589.90,599.81 L591.16,601.22 L592.43,602.56 L593.69,603.82 L594.95,605.00 L596.22,606.11 L597.48,607.13 L598.74,608.08 L600.00,608.95 L601.27,609.73 L602.53,610.43 L603.79,611.05 L605.06,611.58 L606.32,612.03 L607.58,612.40 L608.85,612.67 L610.11,612.87 L611.37,612.98 L612.64,613.00 L613.90,612.93 L615.16,612.78 L616.43,612.55 L617.69,612.23 L618.95,611.82 L620.21,611.33 L621.48,610.76 L622.74,610.10 L624.00,609.35 L625.27,608.53 L626.53,607.63 L627.79,606.64 L629.06,605.57 L630.32,604.43 L631.58,603.21 L632.85,601.91 L634.11,600.54 L635.37,599.09 L636.64,597.57 L637.90,595.98 L639.16,594.32 L640.43,592.59 L641.69,590.80 L642.95,588.95 L644.21,587.03 L645.48,585.05 L646.74,583.01 L648.00,580.91 L649.27,578.76 L650.53,576.56 L651.79,574.31 L653.06,572.01 L654.32,569.66 L655.58,567.27 L656.85,564.84 L658.11,562.38 L659.37,559.87 L660.64,557.33 L661.90,554.76 L663.16,552.16 L664.43,549.53 L665.69,546.88 L666.95,544.21 L668.21,541.52 L669.48,538.81 L670.74,536.09 L672.00,533.36 L673.27,530.62 L674.53,527.88" fill="none" stroke="#1a1a1a" stroke-width="1.25" stroke-linecap="round" stroke-linejoin="round"/><path d="M421.90,519.15 L424.45,509.31 L427.00,499.47 L429.56,489.79 L432.11,480.40 L434.66,471.45 L437.21,463.06 L439.76,455.33 L442.31,448.31 L444.87,442.04 L447.42,436.52 L449.97,431.73 L452.52,427.62 L455.07,424.13 L457.63,421.20 L460.18,418.78 L462.73,416.80 L465.28,415.22 L467.83,414.01 L470.38,413.17 L472.94,412.68 L475.49,412.54 L478.04,412.76 L480.59,413.35 L483.14,414.31 L485.70,415.63 L488.25,417.31 L490.80,419.33 L493.35,421.67 L495.90,424.29 L498.45,427.18 L501.01,430.31 L503.56,433.66 L506.11,437.21 L508.66,440.95 L511.21,444.87 L513.77,448.98 L516.32,453.26 L518.87,457.70 L521.42,462.28 L523.97,467.00 L526.52,471.81 L529.08,476.69 L531.63,481.60 L534.18,486.50 L536.73,491.36 L539.28,496.15 L541.84,500.85 L544.39,505.46 L546.94,509.97 L549.49,514.40 L552.04,518.78 L554.59,523.13 L557.15,527.48 L559.70,531.84 L562.25,536.22 L564.80,540.64 L567.35,545.06 L569.91,549.46 L572.46,553.81 L575.01,558.06 L577.56,562.16 L580.11,566.06 L582.66,569.72 L585.22,573.10 L587.77,576.20 L590.32,578.99 L592.87,581.48 L595.42,583.68 L597.98,585.62 L600.53,587.31 L603.08,588.76 L605.63,589.99 L608.18,591.00 L610.73,591.77 L613.29,592.28 L615.84,592.50 L618.39,592.41 L620.94,591.96 L623.49,591.12 L626.05,589.87 L628.60,588.19 L631.15,586.08 L633.70,583.53 L636.25,580.57 L638.80,577.21 L641.36,573.45 L643.91,569.30 L646.46,564.78 L649.01,559.86 L651.56,554.53 L654.12,548.76 L656.67,542.52 L659.22,535.78 L661.77,528.51 L664.32,520.71 L666.88,512.38 L669.43,503.56 L671.98,494.32 L674.53,484.75" fill="none" stroke="#ff0000" stroke-width="2.2" stroke-linecap="round" stroke-linejoin="round" stroke-dasharray="5.7 9.5"/><path d="M421.90,519.15 L424.45,509.31 L427.00,499.47 L429.56,489.79 L432.11,480.40 L434.66,471.45 L437.21,463.06 L439.76,455.33 L442.31,448.31 L444.87,442.04 L447.42,436.52 L449.97,431.73 L452.52,427.62 L455.07,424.13 L457.63,421.20 L460.18,418.78 L462.73,416.80 L465.28,415.22 L467.83,414.01 L470.38,413.17 L472.94,412.68 L475.49,412.54 L478.04,412.76 L480.59,413.35 L483.14,414.31 L485.70,415.63 L488.25,417.31 L490.80,419.33 L493.35,421.67 L495.90,424.29 L498.45,427.18 L501.01,430.31 L503.56,433.66 L506.11,437.21 L508.66,440.95 L511.21,444.87 L513.77,448.98 L516.32,453.26 L518.87,457.70 L521.42,462.28 L523.97,467.00 L526.52,471.81 L529.08,476.69 L531.63,481.60 L534.18,486.50 L536.73,491.36 L539.28,496.15 L541.84,500.85 L544.39,505.46 L546.94,509.97 L549.49,514.40 L552.04,518.78 L554.59,523.13 L557.15,527.48 L559.70,531.84 L562.25,536.22 L564.80,540.64 L567.35,545.06 L569.91,549.46 L572.46,553.81 L575.01,558.06 L577.56,562.16 L580.11,566.06 L582.66,569.72 L585.22,573.10 L587.77,576.20 L590.32,578.99 L592.87,581.48 L595.42,583.68 L597.98,585.62 L600.53,587.31 L603.08,588.76 L605.63,589.99 L608.18,591.00 L610.73,591.77 L613.29,592.28 L615.84,592.50 L618.39,592.41 L620.94,591.96 L623.49,591.12 L626.05,589.87 L628.60,588.19 L631.15,586.08 L633.70,583.53 L636.25,580.57 L638.80,577.21 L641.36,573.45 L643.91,569.30 L646.46,564.78 L649.01,559.86 L651.56,554.53 L654.12,548.76 L656.67,542.52 L659.22,535.78 L661.77,528.51 L664.32,520.71 L666.88,512.38 L669.43,503.56 L671.98,494.32 L674.53,484.75" fill="none" stroke="#1fd01f" stroke-width="1.1" stroke-linecap="butt" stroke-linejoin="round" stroke-dasharray="1 2.72"/><path d="M421.90,493.49 L424.45,483.42 L427.00,473.39 L429.56,463.59 L432.11,454.16 L434.66,445.25 L437.21,436.96 L439.76,429.39 L442.31,422.57 L444.87,416.53 L447.42,411.25 L449.97,406.68 L452.52,402.77 L455.07,399.44 L457.63,396.62 L460.18,394.25 L462.73,392.27 L465.28,390.64 L467.83,389.34 L470.38,388.38 L472.94,387.74 L475.49,387.45 L478.04,387.54 L480.59,388.01 L483.14,388.88 L485.70,390.15 L488.25,391.81 L490.80,393.84 L493.35,396.22 L495.90,398.91 L498.45,401.87 L501.01,405.06 L503.56,408.46 L506.11,412.03 L508.66,415.76 L511.21,419.65 L513.77,423.67 L516.32,427.83 L518.87,432.12 L521.42,436.55 L523.97,441.10 L526.52,445.77 L529.08,450.52 L531.63,455.34 L534.18,460.19 L536.73,465.06 L539.28,469.90 L541.84,474.71 L544.39,479.46 L546.94,484.14 L549.49,488.77 L552.04,493.33 L554.59,497.86 L557.15,502.35 L559.70,506.82 L562.25,511.28 L564.80,515.72 L567.35,520.15 L569.91,524.54 L572.46,528.86 L575.01,533.09 L577.56,537.19 L580.11,541.13 L582.66,544.88 L585.22,548.40 L587.77,551.68 L590.32,554.70 L592.87,557.47 L595.42,559.97 L597.98,562.22 L600.53,564.21 L603.08,565.95 L605.63,567.43 L608.18,568.63 L610.73,569.55 L613.29,570.16 L615.84,570.43 L618.39,570.35 L620.94,569.89 L623.49,569.03 L626.05,567.76 L628.60,566.08 L631.15,563.99 L633.70,561.51 L636.25,558.63 L638.80,555.38 L641.36,551.75 L643.91,547.75 L646.46,543.35 L649.01,538.54 L651.56,533.27 L654.12,527.50 L656.67,521.21 L659.22,514.34 L661.77,506.89 L664.32,498.85 L666.88,490.24 L669.43,481.11 L671.98,471.56 L674.53,461.70" fill="none" stroke="#0000ff" stroke-width="1.35" stroke-linecap="round" stroke-linejoin="round" stroke-dasharray="0.6 3.2 4.4 3.2"/></g><rect x="412.2" y="378.6" width="272.20" height="243.20" fill="none" stroke="#1e1e1e" stroke-width="1.15"/><line x1="421.90" y1="621.80" x2="421.90" y2="627.00" stroke="#333" stroke-width="1.1" /><text x="421.90" y="639.30" class="tk" text-anchor="middle" textLength="10.56" lengthAdjust="spacingAndGlyphs">0.0</text><line x1="472.68" y1="621.80" x2="472.68" y2="627.00" stroke="#333" stroke-width="1.1" /><text x="472.68" y="639.30" class="tk" text-anchor="middle" textLength="10.56" lengthAdjust="spacingAndGlyphs">0.2</text><line x1="523.46" y1="621.80" x2="523.46" y2="627.00" stroke="#333" stroke-width="1.1" /><text x="523.46" y="639.30" class="tk" text-anchor="middle" textLength="10.56" lengthAdjust="spacingAndGlyphs">0.4</text><line x1="574.24" y1="621.80" x2="574.24" y2="627.00" stroke="#333" stroke-width="1.1" /><text x="574.24" y="639.30" class="tk" text-anchor="middle" textLength="10.56" lengthAdjust="spacingAndGlyphs">0.6</text><line x1="625.02" y1="621.80" x2="625.02" y2="627.00" stroke="#333" stroke-width="1.1" /><text x="625.02" y="639.30" class="tk" text-anchor="middle" textLength="10.56" lengthAdjust="spacingAndGlyphs">0.8</text><line x1="675.80" y1="621.80" x2="675.80" y2="627.00" stroke="#333" stroke-width="1.1" /><text x="675.80" y="639.30" class="tk" text-anchor="middle" textLength="10.56" lengthAdjust="spacingAndGlyphs">1.0</text><line x1="407.00" y1="613.00" x2="412.20" y2="613.00" stroke="#333" stroke-width="1.1" /><text transform="translate(401.20,613.00) rotate(-90)" class="tk" text-anchor="middle" textLength="15.00" lengthAdjust="spacingAndGlyphs">−1.0</text><line x1="407.00" y1="569.06" x2="412.20" y2="569.06" stroke="#333" stroke-width="1.1" /><text transform="translate(401.20,569.06) rotate(-90)" class="tk" text-anchor="middle" textLength="15.00" lengthAdjust="spacingAndGlyphs">−0.5</text><line x1="407.00" y1="525.12" x2="412.20" y2="525.12" stroke="#333" stroke-width="1.1" /><text transform="translate(401.20,525.12) rotate(-90)" class="tk" text-anchor="middle" textLength="10.56" lengthAdjust="spacingAndGlyphs">0.0</text><line x1="407.00" y1="481.18" x2="412.20" y2="481.18" stroke="#333" stroke-width="1.1" /><text transform="translate(401.20,481.18) rotate(-90)" class="tk" text-anchor="middle" textLength="10.56" lengthAdjust="spacingAndGlyphs">0.5</text><line x1="407.00" y1="437.24" x2="412.20" y2="437.24" stroke="#333" stroke-width="1.1" /><text transform="translate(401.20,437.24) rotate(-90)" class="tk" text-anchor="middle" textLength="10.56" lengthAdjust="spacingAndGlyphs">1.0</text><line x1="407.00" y1="393.30" x2="412.20" y2="393.30" stroke="#333" stroke-width="1.1" /><text transform="translate(401.20,393.30) rotate(-90)" class="tk" text-anchor="middle" textLength="10.56" lengthAdjust="spacingAndGlyphs">1.5</text><text x="548.30" y="658.40" class="tk" text-anchor="middle">t</text><text transform="translate(380.20,500.70) rotate(-90)" class="tk" text-anchor="middle"><tspan font-size="7.6px">θ</tspan>(t)</text><rect x="421.90" y="564.90" width="80.70" height="47.30" fill="#fff" stroke="#858585" stroke-width="1.3"/><path d="M428.10,574.20 L450.80,574.20" fill="none" stroke="#1a1a1a" stroke-width="1.25" stroke-linecap="round" stroke-linejoin="round"/><text x="457.80" y="577.00" class="lg" textLength="36.62" lengthAdjust="spacingAndGlyphs">True curve</text><path d="M428.10,583.40 L450.80,583.40" fill="none" stroke="#ff0000" stroke-width="2.2" stroke-linecap="round" stroke-linejoin="round" stroke-dasharray="5.7 9.5"/><text x="457.80" y="586.20" class="lg" textLength="41.34" lengthAdjust="spacingAndGlyphs">RCEL curve</text><path d="M428.10,593.00 L450.80,593.00" fill="none" stroke="#1fd01f" stroke-width="1.1" stroke-linecap="butt" stroke-linejoin="round" stroke-dasharray="1 2.72"/><text x="457.80" y="595.80" class="lg" textLength="41.34" lengthAdjust="spacingAndGlyphs">NREL curve</text><path d="M428.10,602.60 L450.80,602.60" fill="none" stroke="#0000ff" stroke-width="1.35" stroke-linecap="round" stroke-linejoin="round" stroke-dasharray="0.6 3.2 4.4 3.2"/><text x="457.80" y="605.40" class="lg" textLength="41.34" lengthAdjust="spacingAndGlyphs">NCEL curve</text>
<text x="121.6" y="310.7" class="cap" textLength="23.8" lengthAdjust="spacingAndGlyphs">(a)</text>
<text x="153.4" y="310.7" class="cap" textLength="55.6" lengthAdjust="spacingAndGlyphs">Case 1</text>
<text x="494.0" y="310.7" class="cap" textLength="25.3" lengthAdjust="spacingAndGlyphs">(b)</text>
<text x="527.1" y="310.7" class="cap" textLength="56.8" lengthAdjust="spacingAndGlyphs">Case 2</text>
<text x="121.9" y="688.6" class="cap" textLength="24.3" lengthAdjust="spacingAndGlyphs">(c)</text>
<text x="153.7" y="688.6" class="cap" textLength="55.3" lengthAdjust="spacingAndGlyphs">Case 3</text>
<text x="494.0" y="688.6" class="cap" textLength="25.3" lengthAdjust="spacingAndGlyphs">(d)</text>
<text x="527.1" y="688.6" class="cap" textLength="56.4" lengthAdjust="spacingAndGlyphs">Case 4</text>
</svg>
</body></html>
